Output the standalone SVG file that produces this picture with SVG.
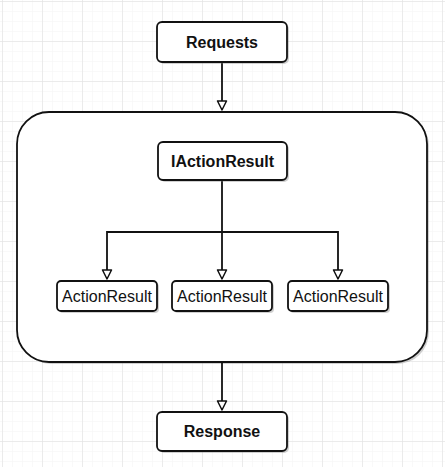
<svg xmlns="http://www.w3.org/2000/svg" width="445" height="467" viewBox="0 0 445 467">
<defs>
<pattern id="minor" width="10" height="10" patternUnits="userSpaceOnUse" x="2" y="1">
<path d="M0 0H10M0 0V10" fill="none" stroke="#f3f3f3" stroke-width="1"/>
</pattern>
<pattern id="major" width="40" height="40" patternUnits="userSpaceOnUse" x="2" y="1">
<path d="M0 0H40M0 0V40" fill="none" stroke="#dedede" stroke-width="1"/>
</pattern>
<marker id="arr" markerWidth="12" markerHeight="12" refX="10" refY="6" orient="auto" markerUnits="userSpaceOnUse" viewBox="0 0 12 12">
<path d="M1 1.5 L10 6 L1 10.5 Z" fill="#fff" stroke="#111" stroke-width="1.5" stroke-linejoin="round"/>
</marker>
</defs>
<style>
.box{fill:#fff;stroke:#111;stroke-width:1.8}
.shadow{fill:#777;opacity:0.35}
.edge{fill:none;stroke:#111;stroke-width:1.8}
.bold{font-family:"Liberation Sans",Arial,sans-serif;font-weight:bold;font-size:16px;fill:#111;text-anchor:middle}
.reg{font-family:"Liberation Sans",Arial,sans-serif;font-size:16px;fill:#111;text-anchor:middle}
</style>
<rect width="445" height="467" fill="#fff"/>
<rect width="445" height="467" fill="url(#minor)"/>
<rect width="445" height="467" fill="url(#major)"/>

<g id="container">
<rect class="shadow" x="19" y="114" width="410" height="250" rx="32"/>
<rect class="box" x="17" y="112" width="410" height="250" rx="32"/>
</g>

<g id="connectors">
<path class="edge" d="M222 62 V110" marker-end="url(#arr)"/>
<path class="edge" d="M222 180 V279" marker-end="url(#arr)"/>
<path class="edge" d="M222 232 H107 V279" marker-end="url(#arr)"/>
<path class="edge" d="M222 232 H338 V279" marker-end="url(#arr)"/>
<path class="edge" d="M222 362 V410" marker-end="url(#arr)"/>
</g>

<g id="requests">
<rect class="shadow" x="159" y="24" width="130" height="40" rx="5"/>
<rect class="box" x="157" y="22" width="130" height="40" rx="5"/>
<text class="bold" x="222" y="47.5">Requests</text>
</g>

<g id="iactionresult">
<rect class="shadow" x="160" y="144" width="129" height="38" rx="5"/>
<rect class="box" x="158" y="142" width="129" height="38" rx="5"/>
<text class="bold" x="222.5" y="166.5">IActionResult</text>
</g>

<g id="actionresult1">
<rect class="shadow" x="59" y="283" width="100" height="30" rx="4"/>
<rect class="box" x="57" y="281" width="100" height="30" rx="4"/>
<text class="reg" x="107" y="301.5">ActionResult</text>
</g>

<g id="actionresult2">
<rect class="shadow" x="174" y="283" width="100" height="30" rx="4"/>
<rect class="box" x="172" y="281" width="100" height="30" rx="4"/>
<text class="reg" x="222" y="301.5">ActionResult</text>
</g>

<g id="actionresult3">
<rect class="shadow" x="290" y="283" width="100" height="30" rx="4"/>
<rect class="box" x="288" y="281" width="100" height="30" rx="4"/>
<text class="reg" x="338" y="301.5">ActionResult</text>
</g>

<g id="response">
<rect class="shadow" x="159" y="414" width="130" height="39" rx="5"/>
<rect class="box" x="157" y="412" width="130" height="39" rx="5"/>
<text class="bold" x="222" y="437">Response</text>
</g>
</svg>
